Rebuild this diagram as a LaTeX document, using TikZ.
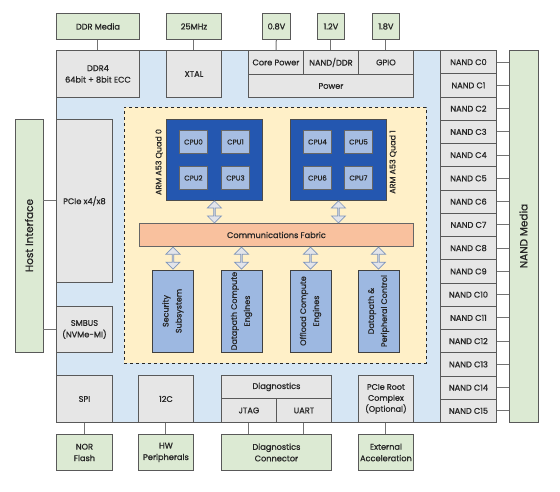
\documentclass[tikz,border=0pt]{standalone}
\usepackage{fontspec}
\setmainfont{Poppins}[FakeBold=0.9]
\usetikzlibrary{shapes.arrows}

\definecolor{socback}{HTML}{D6E6F4}
\definecolor{chipgray}{HTML}{E6E6E6}
\definecolor{extgreen}{HTML}{DCEAD3}
\definecolor{coreyellow}{HTML}{FFF0C8}
\definecolor{quadblue}{HTML}{2457B0}
\definecolor{cpublue}{HTML}{A6BDE2}
\definecolor{fabricpeach}{HTML}{F9C19E}
\definecolor{engblue}{HTML}{9DB8E1}
\definecolor{arrowfill}{HTML}{E2E4EA}
\definecolor{arrowedge}{HTML}{7F95BB}

\tikzset{
    base/.style={draw=black!65, line width=0.9pt, inner sep=1pt, align=center,
        text=black!85, font=\fontsize{8.2}{11.5}\selectfont},
    chipblk/.style 2 args={base, fill=chipgray, anchor=north west,
        minimum width=#1, minimum height=#2},
    extblk/.style 2 args={base, fill=extgreen, anchor=north west,
        minimum width=#1, minimum height=#2},
    cpublk/.style={base, fill=cpublue, draw=black!60, anchor=north west,
        minimum width=28, minimum height=23, font=\fontsize{7}{8}\selectfont},
    quadblk/.style={base, fill=quadblue, draw=black!70, anchor=north west,
        minimum width=96, minimum height=81},
    quadlbl/.style={rotate=90, text=black!85, font=\fontsize{8}{9}\selectfont},
    engblk/.style={base, fill=engblue, draw=black!75, rotate=90,
        minimum width=82, minimum height=41, font=\fontsize{8}{13}\selectfont},
    mediablk/.style={base, fill=extgreen, rotate=90, font=\fontsize{10.5}{12}\selectfont},
    link/.style={draw=black!55, line width=1pt},
    dblarrow/.style={double arrow, draw=arrowedge, fill=arrowfill, line width=0.7pt,
        rotate=90, inner sep=0pt, minimum height=22, minimum width=14,
        double arrow head extend=3pt},
}

\begin{document}
\begin{tikzpicture}[x=1pt, y=-1pt]
    \useasboundingbox (0,0) rectangle (560,491);

    % SoC die
    \node[base, fill=socback, anchor=north west, minimum width=384, minimum height=372] (soc) at (56,50) {};
    \node[base, fill=coreyellow, dashed, draw=black!85, anchor=north west, minimum width=302, minimum height=256] (core) at (124,107) {};

    % top row
    \node[chipblk={83}{47}] (ddr) at (56,50) {DDR4\\64bit + 8bit ECC};
    \node[chipblk={55}{47}] (xtal) at (166,50) {XTAL};
    \node[chipblk={55}{24}] (corepwr) at (248,50) {Core Power};
    \node[chipblk={55}{24}] (nandpwr) at (303,50) {NAND/DDR};
    \node[chipblk={55}{24}] (gpio) at (358,50) {GPIO};
    \node[chipblk={165}{23}] (power) at (248,74) {Power};

    \node[extblk={83}{26}] (ddrmedia) at (56,13) {DDR Media};
    \node[extblk={55}{26}] (osc) at (166,13) {25MHz};
    \node[extblk={28}{26}] (v08) at (262,13) {0.8V};
    \node[extblk={27}{26}] (v12) at (317,13) {1.2V};
    \node[extblk={27}{26}] (v18) at (372,13) {1.8V};

    \draw[link] (ddrmedia) -- (ddr);
    \draw[link] (osc) -- (xtal);
    \draw[link] (v08) -- (corepwr);
    \draw[link] (v12) -- (nandpwr);
    \draw[link] (v18) -- (gpio);

    % host side
    \node[mediablk, minimum width=233, minimum height=28] (host) at (29,235.5) {Host Interface};
    \node[chipblk={56}{163}] (pcie) at (56,119) {PCIe x4/x8};
    \node[chipblk={56}{46}] (smbus) at (56,306) {SMBUS\\(NVMe-MI)};
    \draw[link] (pcie.west) -- (pcie.west -| host.south);
    \draw[link] (smbus.west) -- (smbus.west -| host.south);

    % NAND channels
    \node[mediablk, minimum width=372, minimum height=29] (nandmedia) at (523.5,236) {NAND Media};
    \foreach \i in {0,...,15} {
        \node[chipblk={56}{23.25}] (nand\i) at (440,{50+23.25*\i}) {NAND C\i};
        \draw[link] (nand\i.east) -- (nand\i.east -| nandmedia.north);
    }

    % bottom row
    \node[chipblk={56}{47}] (spi) at (56,375) {SPI};
    \node[chipblk={55}{47}] (iic) at (138,375) {12C};
    \node[chipblk={110}{23}] (diag) at (221,375) {Diagnostics};
    \node[chipblk={55}{24}] (jtag) at (221,398) {JTAG};
    \node[chipblk={55}{24}] (uart) at (276,398) {UART};
    \node[chipblk={55}{47}, font=\fontsize{8}{11}\selectfont] (rc) at (358,375) {PCIe Root\\Complex\\(Optional)};

    \node[extblk={56}{36}] (nor) at (56,434) {NOR\\Flash};
    \node[extblk={55}{36}] (hwp) at (138,434) {HW\\Peripherals};
    \node[extblk={110}{36}] (diagconn) at (221,434) {Diagnostics\\Connector};
    \node[extblk={55}{36}] (extacc) at (358,434) {External\\Acceleration};

    \draw[link] (spi) -- (nor);
    \draw[link] (iic) -- (hwp);
    \draw[link] (jtag.south) -- (jtag.south |- diagconn.north);
    \draw[link] (uart.south) -- (uart.south |- diagconn.north);
    \draw[link] (rc) -- (extacc);

    % compute complex
    \node[quadblk] (quad0) at (166,119) {};
    \node[quadblk] (quad1) at (290,119) {};
    \foreach \q/\c/\dx/\dy in {0/0/13/11, 0/1/55/11, 0/2/13/47, 0/3/55/47,
                                1/4/13/11, 1/5/54/11, 1/6/13/47, 1/7/54/47} {
        \node[cpublk] (cpu\c) at ([xshift=\dx, yshift=-\dy]quad\q.north west) {CPU\c};
    }
    \node[quadlbl] (quad0lbl) at (159,162) {ARM A53 Quad 0};
    \node[quadlbl] (quad1lbl) at (393,162) {ARM A53 Quad 1};

    \node[base, fill=fabricpeach, draw=black!60, anchor=north west, minimum width=274, minimum height=23] (fabric) at (139,223) {Communications Fabric};

    \node[engblk] (sec) at (173,311) {Security\\Subsystem};
    \node[engblk] (dpce) at (241.5,311) {Datapath Compute\\Engines};
    \node[engblk] (oce) at (310.5,311) {Offload Compute\\Engines};
    \node[engblk] (dppc) at (378.5,311) {Datapath \&\\Peripheral Control};

    \path (quad0.south) -- (quad0.south |- fabric.north) node[midway, dblarrow] (arr0) {};
    \path (quad1.south) -- (quad1.south |- fabric.north) node[midway, dblarrow] (arr1) {};
    \foreach \e in {sec,dpce,oce,dppc} {
        \path (\e.east |- fabric.south) -- (\e.east) node[midway, dblarrow] (arr\e) {};
    }
\end{tikzpicture}
\end{document}
